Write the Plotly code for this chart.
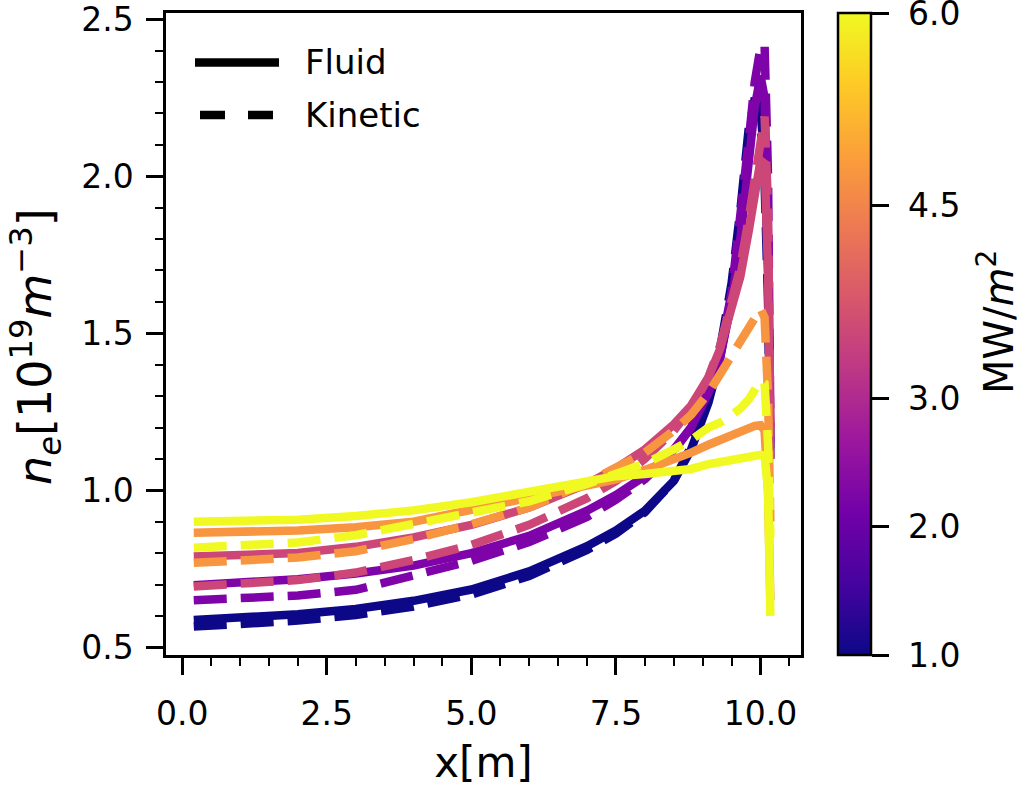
import plotly.graph_objects as go

# ---- data ----
x_m = [0.2, 1.0, 2.0, 3.0, 4.0, 5.0, 6.0, 7.0, 7.5, 8.0, 8.5, 8.8, 9.1, 9.3, 9.5,
       9.65, 9.8, 9.9, 10.0, 10.07, 10.13, 10.17]

power_mw_m2 = [1.0, 2.0, 3.0, 4.5, 6.0]
line_colors = ['#0d0887', '#7e03a8', '#cc4778', '#f89540', '#f0f921']

fluid_p1 = [0.587, 0.594, 0.605, 0.622, 0.648, 0.684, 0.742, 0.822, 0.872, 0.935, 1.03,
            1.13, 1.28, 1.42, 1.62, 1.85, 2.12, 2.25, 2.21, 2.05, 1.70, 1.10]
kinetic_p1 = [0.566, 0.573, 0.585, 0.603, 0.630, 0.668, 0.727, 0.810, 0.862, 0.930, 1.03,
              1.14, 1.30, 1.45, 1.66, 1.89, 2.16, 2.24, 2.16, 1.98, 1.60, 1.10]
fluid_p2 = [0.698, 0.705, 0.717, 0.735, 0.760, 0.800, 0.855, 0.935, 0.985, 1.045, 1.13,
            1.20, 1.31, 1.42, 1.60, 1.80, 2.06, 2.22, 2.32, 2.25, 1.80, 1.15]
kinetic_p2 = [0.650, 0.654, 0.665, 0.683, 0.727, 0.775, 0.835, 0.915, 0.970, 1.035, 1.125,
              1.20, 1.32, 1.44, 1.63, 1.85, 2.12, 2.30, 2.41, 2.42, 2.00, 1.20]
fluid_p3 = [0.789, 0.792, 0.800, 0.820, 0.850, 0.890, 0.945, 1.02, 1.07, 1.13, 1.21,
            1.27, 1.36, 1.45, 1.57, 1.68, 1.83, 1.95, 2.05, 2.04, 1.70, 1.10]
kinetic_p3 = [0.694, 0.700, 0.714, 0.738, 0.778, 0.826, 0.890, 0.975, 1.03, 1.10, 1.19,
              1.26, 1.36, 1.46, 1.59, 1.71, 1.87, 1.99, 2.13, 2.19, 1.90, 1.20]
fluid_p4 = [0.865, 0.867, 0.872, 0.882, 0.900, 0.938, 0.975, 1.015, 1.035, 1.065, 1.097,
            1.12, 1.145, 1.16, 1.178, 1.19, 1.20, 1.205, 1.207, 1.19, 1.00, 0.65]
kinetic_p4 = [0.769, 0.774, 0.786, 0.806, 0.845, 0.892, 0.945, 1.025, 1.07, 1.12, 1.19,
              1.24, 1.31, 1.37, 1.43, 1.48, 1.53, 1.56, 1.578, 1.55, 1.30, 0.90]
fluid_p5 = [0.900, 0.902, 0.906, 0.918, 0.936, 0.962, 0.996, 1.03, 1.045, 1.052, 1.06,
            1.068, 1.083, 1.09, 1.097, 1.101, 1.106, 1.11, 1.113, 1.11, 1.00, 0.60]
kinetic_p5 = [0.817, 0.822, 0.834, 0.857, 0.895, 0.927, 0.965, 1.02, 1.05, 1.085, 1.13,
              1.16, 1.20, 1.215, 1.24, 1.26, 1.29, 1.32, 1.35, 1.34, 1.15, 0.85]

fluid = [fluid_p1, fluid_p2, fluid_p3, fluid_p4, fluid_p5]
kinetic = [kinetic_p1, kinetic_p2, kinetic_p3, kinetic_p4, kinetic_p5]

x_ticks = [0.0, 2.5, 5.0, 7.5, 10.0]
x_ticktext = ['0.0', '2.5', '5.0', '7.5', '10.0']
y_ticks = [0.5, 1.0, 1.5, 2.0, 2.5]
y_ticktext = ['0.5', '1.0', '1.5', '2.0', '2.5']
cb_min, cb_max = 1.0, 6.0
cb_ticks = [1.0, 2.0, 3.0, 4.5, 6.0]
cb_ticktext = ['1.0', '2.0', '3.0', '4.5', '6.0']

# ---- layout geometry (pixels) ----
W, H = 1025, 787
L, R, T, B = 166, 224, 13, 132
PW, PH = W - L - R, H - T - B


def px(xp):
    return (xp - L) / PW


def py(yp):
    return (H - B - yp) / PH


FONT = 'DejaVu Sans'
TICK_FS = 33
LW = 8.5

fig = go.Figure()
for i, p in enumerate(power_mw_m2):
    fig.add_trace(go.Scatter(x=x_m, y=fluid[i], mode='lines',
                             line=dict(color=line_colors[i], width=LW),
                             name=f'Fluid {p} MW/m2', showlegend=False))
    fig.add_trace(go.Scatter(x=x_m, y=kinetic[i], mode='lines',
                             line=dict(color=line_colors[i], width=LW, dash='33px,14px'),
                             name=f'Kinetic {p} MW/m2', showlegend=False))

# colorbar carrier
fig.add_trace(go.Scatter(
    x=[None], y=[None], mode='markers', showlegend=False, hoverinfo='skip',
    marker=dict(color=[cb_min, cb_max], colorscale='Plasma', cmin=cb_min, cmax=cb_max, showscale=True,
                colorbar=dict(
                    x=px(838), xanchor='left', xpad=0, ypad=0,
                    y=0.5, yanchor='middle', len=1.0, lenmode='fraction',
                    thickness=33, thicknessmode='pixels',
                    outlinewidth=2.5, outlinecolor='black',
                    tickvals=cb_ticks, ticktext=cb_ticktext, showticklabels=False,
                    ticks='outside', ticklen=17, tickwidth=2.5, tickcolor='black',
                ))))

# colorbar tick labels placed beside the ticks (the bar spans the full plot height)
for v, t in zip(cb_ticks, cb_ticktext):
    fig.add_annotation(x=px(906), y=(v - cb_min) / (cb_max - cb_min), xref='paper', yref='paper',
                       text=t, showarrow=False, xanchor='left', yanchor='middle',
                       font=dict(family=FONT, size=TICK_FS, color='black'))

fig.update_layout(
    width=W, height=H,
    margin=dict(l=L, r=R, t=T, b=B, pad=0, autoexpand=False),
    plot_bgcolor='white', paper_bgcolor='white',
    showlegend=False,
    font=dict(family=FONT, size=TICK_FS, color='black'),
)
fig.update_xaxes(
    range=[-0.28, 10.70], tickvals=x_ticks, ticktext=x_ticktext,
    ticks='outside', ticklen=17, tickwidth=2.5, tickcolor='black',
    showline=True, linewidth=2.5, linecolor='black', mirror=True,
    showgrid=False, zeroline=False, ticklabeloverflow='allow',
    tickfont=dict(family=FONT, size=TICK_FS), ticklabelstandoff=11,
    minor=dict(dtick=0.5, tick0=0, ticks='outside', ticklen=8, tickwidth=2, tickcolor='black'),
    title=dict(text='x[m]', font=dict(family=FONT, size=42), standoff=16),
)
fig.update_yaxes(
    range=[0.4755, 2.52], tickvals=y_ticks, ticktext=y_ticktext,
    ticks='outside', ticklen=17, tickwidth=2.5, tickcolor='black',
    showline=True, linewidth=2.5, linecolor='black', mirror=True,
    showgrid=False, zeroline=False, ticklabeloverflow='allow',
    tickfont=dict(family=FONT, size=TICK_FS), ticklabelstandoff=6,
    minor=dict(dtick=0.1, tick0=0, ticks='outside', ticklen=8, tickwidth=2, tickcolor='black'),
)

# y-axis label
fig.add_annotation(x=px(36), y=py(347), xref='paper', yref='paper',
                   text='<i>n</i><sub><i>e</i></sub>[10<sup>19</sup><i>m</i><sup>−3</sup>]',
                   showarrow=False, textangle=-90, xanchor='center', yanchor='middle',
                   font=dict(family=FONT, size=46, color='black'))

# legend (drawn inside the axes, top-left)
fig.add_shape(type='line', xref='paper', yref='paper', x0=px(195), x1=px(279), y0=py(62.5), y1=py(62.5),
              line=dict(color='black', width=8.5))
fig.add_shape(type='line', xref='paper', yref='paper', x0=px(200), x1=px(276), y0=py(115), y1=py(115),
              line=dict(color='black', width=8.5, dash='25px,23px'))
fig.add_annotation(x=px(303), y=py(62), xref='paper', yref='paper', text='Fluid', showarrow=False,
                   xanchor='left', yanchor='middle', font=dict(family=FONT, size=34, color='black'))
fig.add_annotation(x=px(303), y=py(115), xref='paper', yref='paper', text='Kinetic', showarrow=False,
                   xanchor='left', yanchor='middle', font=dict(family=FONT, size=34, color='black'))

# colorbar label
fig.add_annotation(x=px(996), y=py(322), xref='paper', yref='paper', text='MW/<i>m</i><sup>2</sup>',
                   showarrow=False, textangle=-90, xanchor='center', yanchor='middle',
                   font=dict(family=FONT, size=40, color='black'))

fig.write_html('out.html')
